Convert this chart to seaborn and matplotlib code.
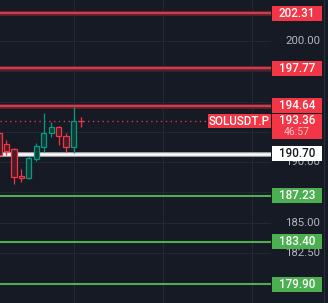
import numpy as np
import pandas as pd
import matplotlib
matplotlib.use("Agg")
import matplotlib.pyplot as plt
import matplotlib.transforms as mtransforms
from matplotlib.patches import Rectangle
import seaborn as sns

# ---- data ----
opens  = [192.40, 191.49, 191.07, 188.84, 188.68, 190.25, 191.24, 192.40, 192.89, 192.15, 191.24, 193.39]
highs  = [192.60, 191.82, 191.16, 189.42, 190.50, 191.57, 194.05, 193.31, 192.98, 192.40, 194.55, 193.72]
lows   = [190.40, 190.58, 188.18, 188.35, 188.57, 190.08, 190.83, 192.07, 191.40, 190.83, 190.74, 192.89]
closes = [190.58, 190.91, 188.76, 188.68, 190.33, 191.32, 192.40, 192.89, 192.15, 191.24, 193.39, 193.36]

red_levels = [202.31, 197.77, 194.64]
green_levels = [187.23, 183.40, 179.90]
white_level = 190.70
last_price = 193.36
countdown = "46:57"
symbol = "SOLUSDT.P"
grid_ticks = [180.0, 182.5, 185.0, 187.5, 190.0, 192.5, 195.0, 197.5, 200.0, 202.5]
label_ticks = [182.5, 185.0, 190.0, 200.0]   # the axis labels not covered by tags
vgrid_bars = [10, 22, 34]

df = pd.DataFrame({"bar": np.arange(len(opens)), "open": opens, "high": highs,
                   "low": lows, "close": closes})

# ---- style ----
BG = "#161a25"
GRID = "#242833"
RED = "#f23645"
GREEN_C = "#089981"
GREEN_L = "#4caf50"
sns.set_theme(style="dark", rc={"axes.facecolor": BG, "figure.facecolor": BG})
plt.rcParams["font.family"] = ["Roboto", "DejaVu Sans"]

W, H = 328, 303
fig = plt.figure(figsize=(W / 100, H / 100), dpi=100)
ax = fig.add_axes([0, 0, 271 / W, 1])
ax.set_facecolor(BG)
X0, X1 = 0.134, 36.51
ax.set_xlim(X0, X1)
ax.set_ylim(178.35, 203.39)
for s in ax.spines.values():
    s.set_visible(False)
ax.set_xticks([])
ax.set_yticks([])

# grid
for t in grid_ticks:
    ax.axhline(t, color=GRID, lw=0.8, zorder=0)
for b in vgrid_bars:
    ax.axvline(b, color=GRID, lw=0.8, zorder=0)
fig.add_artist(plt.Line2D([324 / W, 324 / W], [0, 1], color="#2a2e39", lw=0.8))

# level lines
for lv in red_levels:
    sns.lineplot(x=[X0, X1], y=[lv, lv], ax=ax, color="#5e1e29", lw=3.6, zorder=2)
    sns.lineplot(x=[X0, X1], y=[lv, lv], ax=ax, color="#cc3e4e", lw=1.6, zorder=3)
for lv in green_levels:
    sns.lineplot(x=[X0, X1], y=[lv, lv], ax=ax, color=GREEN_L, lw=1.5, zorder=3)
sns.lineplot(x=[X0, X1], y=[white_level, white_level], ax=ax, color="#9598a1", lw=3.6, zorder=2)
sns.lineplot(x=[X0, X1], y=[white_level, white_level], ax=ax, color="white", lw=1.8, zorder=3)

# last price dotted line (until the symbol tag)
ax.plot([X0, X0 + 208 / 7.45], [last_price, last_price], color="#d23a4a", lw=1.0,
        ls=(0, (1, 2.5)), zorder=3)

# candles
bw = 0.7
for _, r in df.iterrows():
    up = r["close"] >= r["open"]
    ec = GREEN_C if up else RED
    fc = "#0e3b36" if up else "#4d1b25"
    ax.vlines(r["bar"], r["low"], r["high"], color=ec, lw=0.9, zorder=4)
    lo, hi = min(r["open"], r["close"]), max(r["open"], r["close"])
    ax.add_patch(Rectangle((r["bar"] - bw / 2, lo), bw, max(hi - lo, 0.04),
                           facecolor=fc, edgecolor=ec, lw=0.9, zorder=5))

# ---- right price axis ----
tr = mtransforms.blended_transform_factory(fig.transFigure, ax.transData)
ppu = 303 / (203.39 - 178.35)
for t in label_ticks:
    ax.text(320 / W, t, f"{t:.2f}", transform=tr, ha="right", va="center",
            fontsize=8.2, color="#b2b5be", clip_on=False, zorder=6)

def box(x0, x1, yc_price, h_px, color, yoff_px=0):
    h = h_px / ppu
    yc = yc_price - yoff_px / ppu
    ax.add_patch(Rectangle((x0 / W, yc - h / 2), (x1 - x0) / W, h, transform=tr,
                           facecolor=color, edgecolor="none", clip_on=False, zorder=7))

def label(price, color, txtcolor="white"):
    box(272, 322, price, 15, color)
    ax.text(297 / W, price, f"{price:.2f}", transform=tr, ha="center", va="center",
            fontsize=8.4, color=txtcolor, fontweight="medium", clip_on=False, zorder=8)

for lv in red_levels:
    label(lv, RED)
for lv in green_levels:
    label(lv, GREEN_L)
label(white_level, "white", "#131722")

# last price + countdown box
box(272, 322, last_price, 25, RED, yoff_px=5)
ax.text(297 / W, last_price + 0.5 / ppu, f"{last_price:.2f}", transform=tr, ha="center",
        va="center", fontsize=8.4, color="white", fontweight="medium", clip_on=False, zorder=8)
ax.text(297 / W, last_price - 10.5 / ppu, countdown, transform=tr, ha="center", va="center",
        fontsize=7.6, color="#f9c4c9", clip_on=False, zorder=8)

# symbol tag
box(208, 271, last_price, 14, RED)
ax.text(239.5 / W, last_price, symbol, transform=tr, ha="center", va="center",
        fontsize=8.4, color="white", fontweight="medium", clip_on=False, zorder=8)

fig.savefig("out.png", dpi=100, facecolor=BG)
